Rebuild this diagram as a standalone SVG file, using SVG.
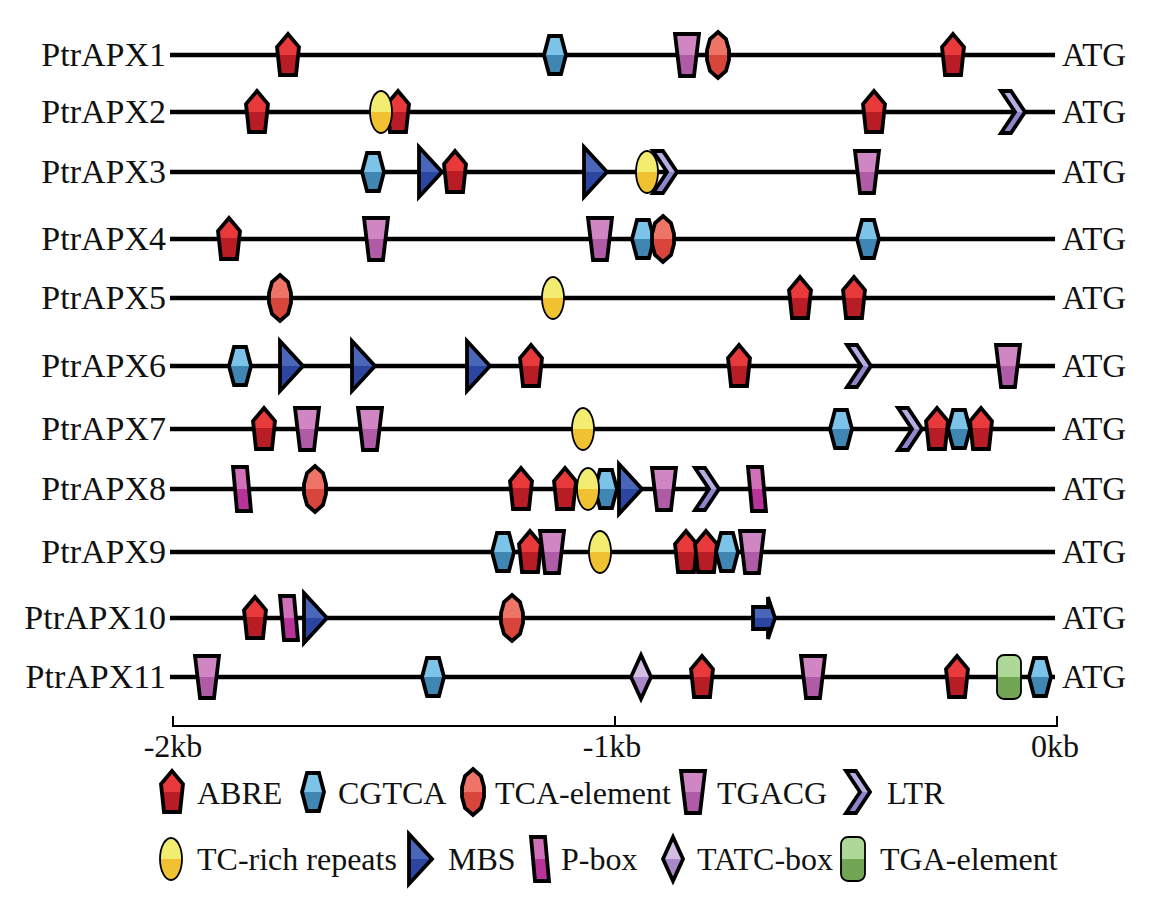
<svg xmlns="http://www.w3.org/2000/svg" xmlns:xlink="http://www.w3.org/1999/xlink" width="1168" height="914" viewBox="0 0 1168 914">
<style>
.t{font-family:"Liberation Serif","Times New Roman",serif;font-size:32px;fill:#111}
.lab{text-anchor:end;font-size:34px}
.atg{font-size:33px}
.bb{stroke:#000;stroke-width:4.5}
.ax{stroke:#000;stroke-width:2;fill:none}
.s{stroke:#000;stroke-width:3.8;stroke-linejoin:miter}
.th{stroke:#000;stroke-width:1.8}
</style>
<defs>
<linearGradient id="gABRE" x1="0" y1="0" x2="0" y2="1"><stop offset="0.5" stop-color="#e83a3a"/><stop offset="0.5" stop-color="#b81d25"/></linearGradient>
<linearGradient id="gCG" x1="0" y1="0" x2="0" y2="1"><stop offset="0.5" stop-color="#7cc3ea"/><stop offset="0.5" stop-color="#4086b3"/></linearGradient>
<linearGradient id="gTCA" x1="0" y1="0" x2="0" y2="1"><stop offset="0.5" stop-color="#ef7468"/><stop offset="0.5" stop-color="#d8453a"/></linearGradient>
<linearGradient id="gTG" x1="0" y1="0" x2="0" y2="1"><stop offset="0.5" stop-color="#cf86c3"/><stop offset="0.5" stop-color="#b05ba5"/></linearGradient>
<linearGradient id="gLTR" x1="0" y1="0" x2="0" y2="1"><stop offset="0.5" stop-color="#b4aee2"/><stop offset="0.5" stop-color="#8e86cc"/></linearGradient>
<linearGradient id="gTC" x1="0" y1="0" x2="0" y2="1"><stop offset="0.5" stop-color="#f2ec70"/><stop offset="0.5" stop-color="#f0c232"/></linearGradient>
<linearGradient id="gMBS" x1="0" y1="0" x2="0" y2="1"><stop offset="0.5" stop-color="#4a66b8"/><stop offset="0.5" stop-color="#2c45a0"/></linearGradient>
<linearGradient id="gPB" x1="0" y1="0" x2="0" y2="1"><stop offset="0.5" stop-color="#cf70b8"/><stop offset="0.5" stop-color="#b8349a"/></linearGradient>
<linearGradient id="gTATC" x1="0" y1="0" x2="0" y2="1"><stop offset="0.5" stop-color="#d2bee2"/><stop offset="0.5" stop-color="#a888c8"/></linearGradient>
<linearGradient id="gTGA" x1="0" y1="0" x2="0" y2="1"><stop offset="0.5" stop-color="#aed898"/><stop offset="0.5" stop-color="#72a655"/></linearGradient>
<polygon id="abre" class="s" fill="url(#gABRE)" points="0,-21 11,-8 8,20 -8,20 -11,-8"/>
<polygon id="cg" class="s" fill="url(#gCG)" points="-6,-19 6,-19 11,0 6,19 -6,19 -11,0"/>
<polygon id="tca" class="s" fill="url(#gTCA)" points="0,-23 8,-16 11,-5 11,5 8,16 0,23 -8,16 -11,5 -11,-5 -8,-16"/>
<polygon id="tg" class="s" fill="url(#gTG)" points="-12,-21 12,-21 7,21 -7,21"/>
<polygon id="ltr" class="s" fill="url(#gLTR)" points="-12,-21 -2,-21 12,0 -2,21 -12,21 2,0"/>
<ellipse id="tc" class="th" fill="url(#gTC)" cx="0" cy="0" rx="11" ry="21"/>
<polygon id="mbs" class="s" fill="url(#gMBS)" points="-11,-25 12,0 -11,25"/>
<polygon id="mbs2" class="s" fill="url(#gMBS)" points="-10,-11 5,-11 5,-21 12,0 5,21 5,11 -10,11"/>
<polygon id="pb" class="s" fill="url(#gPB)" points="-9,-22 5,-22 9,22 -5,22"/>
<polygon id="tatc" class="s" fill="url(#gTATC)" points="0,-22 10,0 0,22 -10,0"/>
<rect id="tga" class="th" fill="url(#gTGA)" x="-12" y="-22" width="24" height="44" rx="7"/>
</defs>
<rect width="1168" height="914" fill="#fff"/>

<g id="connectors"></g>

<g id="row1">
<line class="bb" x1="170" y1="55" x2="1055" y2="55"/>
<text class="t lab" x="166" y="66">PtrAPX1</text><text class="t atg" x="1062" y="66">ATG</text>
<use xlink:href="#abre" x="288" y="55"/><use xlink:href="#cg" x="555" y="55"/><use xlink:href="#tg" x="687" y="55"/><use xlink:href="#tca" x="718" y="55"/><use xlink:href="#abre" x="953" y="55"/>
</g>
<g id="row2">
<line class="bb" x1="170" y1="112" x2="1055" y2="112"/>
<text class="t lab" x="166" y="123">PtrAPX2</text><text class="t atg" x="1062" y="123">ATG</text>
<use xlink:href="#abre" x="257" y="112"/><use xlink:href="#abre" x="398" y="112"/><use xlink:href="#abre" x="874" y="112"/><use xlink:href="#ltr" x="1013" y="112"/><use xlink:href="#tc" x="381" y="112"/>
</g>
<g id="row3">
<line class="bb" x1="170" y1="172" x2="1055" y2="172"/>
<text class="t lab" x="166" y="183">PtrAPX3</text><text class="t atg" x="1062" y="183">ATG</text>
<use xlink:href="#cg" x="373" y="172"/><use xlink:href="#mbs" x="430" y="172"/><use xlink:href="#abre" x="455" y="172"/><use xlink:href="#mbs" x="595" y="172"/><use xlink:href="#ltr" x="665" y="172"/><use xlink:href="#tg" x="867" y="172"/><use xlink:href="#tc" x="647" y="172"/>
</g>
<g id="row4">
<line class="bb" x1="170" y1="239" x2="1055" y2="239"/>
<text class="t lab" x="166" y="250">PtrAPX4</text><text class="t atg" x="1062" y="250">ATG</text>
<use xlink:href="#abre" x="229" y="239"/><use xlink:href="#tg" x="376" y="239"/><use xlink:href="#tg" x="600" y="239"/><use xlink:href="#cg" x="643" y="239"/><use xlink:href="#tca" x="663" y="239"/><use xlink:href="#cg" x="868" y="239"/>
</g>
<g id="row5">
<line class="bb" x1="170" y1="298" x2="1055" y2="298"/>
<text class="t lab" x="166" y="309">PtrAPX5</text><text class="t atg" x="1062" y="309">ATG</text>
<use xlink:href="#tca" x="280" y="298"/><use xlink:href="#abre" x="800" y="298"/><use xlink:href="#abre" x="854" y="298"/><use xlink:href="#tc" x="553" y="298"/>
</g>
<g id="row6">
<line class="bb" x1="170" y1="366" x2="1055" y2="366"/>
<text class="t lab" x="166" y="377">PtrAPX6</text><text class="t atg" x="1062" y="377">ATG</text>
<use xlink:href="#cg" x="240" y="366"/><use xlink:href="#mbs" x="291" y="366"/><use xlink:href="#mbs" x="363" y="366"/><use xlink:href="#mbs" x="478" y="366"/><use xlink:href="#abre" x="531" y="366"/><use xlink:href="#abre" x="739" y="366"/><use xlink:href="#ltr" x="859" y="366"/><use xlink:href="#tg" x="1008" y="366"/>
</g>
<g id="row7">
<line class="bb" x1="170" y1="429" x2="1055" y2="429"/>
<text class="t lab" x="166" y="440">PtrAPX7</text><text class="t atg" x="1062" y="440">ATG</text>
<use xlink:href="#abre" x="264" y="429"/><use xlink:href="#tg" x="307" y="429"/><use xlink:href="#tg" x="370" y="429"/><use xlink:href="#cg" x="841" y="429"/><use xlink:href="#ltr" x="910" y="429"/><use xlink:href="#abre" x="937" y="429"/><use xlink:href="#cg" x="959" y="429"/><use xlink:href="#abre" x="981" y="429"/><use xlink:href="#tc" x="583" y="429"/>
</g>
<g id="row8">
<line class="bb" x1="170" y1="489" x2="1055" y2="489"/>
<text class="t lab" x="166" y="500">PtrAPX8</text><text class="t atg" x="1062" y="500">ATG</text>
<use xlink:href="#pb" x="242" y="489"/><use xlink:href="#tca" x="315" y="489"/><use xlink:href="#abre" x="521" y="489"/><use xlink:href="#abre" x="565" y="489"/><use xlink:href="#cg" x="606" y="489"/><use xlink:href="#mbs" x="630" y="489"/><use xlink:href="#tg" x="664" y="489"/><use xlink:href="#ltr" x="707" y="489"/><use xlink:href="#pb" x="757" y="489"/><use xlink:href="#tc" x="588" y="489"/>
</g>
<g id="row9">
<line class="bb" x1="170" y1="552" x2="1055" y2="552"/>
<text class="t lab" x="166" y="563">PtrAPX9</text><text class="t atg" x="1062" y="563">ATG</text>
<use xlink:href="#cg" x="503" y="552"/><use xlink:href="#abre" x="530" y="552"/><use xlink:href="#tg" x="552" y="552"/><use xlink:href="#abre" x="686" y="552"/><use xlink:href="#abre" x="706" y="552"/><use xlink:href="#cg" x="727" y="552"/><use xlink:href="#tg" x="752" y="552"/><use xlink:href="#tc" x="600" y="552"/>
</g>
<g id="row10">
<line class="bb" x1="170" y1="618" x2="1055" y2="618"/>
<text class="t lab" x="166" y="629">PtrAPX10</text><text class="t atg" x="1062" y="629">ATG</text>
<use xlink:href="#abre" x="255" y="618"/><use xlink:href="#pb" x="289" y="618"/><use xlink:href="#mbs" x="315" y="618"/><use xlink:href="#tca" x="512" y="618"/><use xlink:href="#mbs2" x="763" y="618"/>
</g>
<g id="row11">
<line class="bb" x1="170" y1="677" x2="1055" y2="677"/>
<text class="t lab" x="166" y="688">PtrAPX11</text><text class="t atg" x="1062" y="688">ATG</text>
<use xlink:href="#tg" x="207" y="677"/><use xlink:href="#cg" x="433" y="677"/><use xlink:href="#tatc" x="641" y="677"/><use xlink:href="#abre" x="702" y="677"/><use xlink:href="#tg" x="813" y="677"/><use xlink:href="#abre" x="957" y="677"/><use xlink:href="#tga" x="1009" y="677"/><use xlink:href="#cg" x="1040" y="677"/>
</g>

<g id="axis">
<path class="ax" d="M173,716 V726 H1057 V716 M615,716 V726"/>
<text class="t" x="173" y="757" text-anchor="middle">-2kb</text>
<text class="t" x="612" y="757" text-anchor="middle">-1kb</text>
<text class="t" x="1055" y="757" text-anchor="middle">0kb</text>
</g>

<g id="legend">
<use xlink:href="#abre" x="172" y="792"/><text class="t" x="197" y="804">ABRE</text>
<use xlink:href="#cg" x="313" y="792"/><text class="t" x="338" y="804">CGTCA</text>
<use xlink:href="#tca" x="473" y="792"/><text class="t" x="495" y="804">TCA-element</text>
<use xlink:href="#tg" x="693" y="792"/><text class="t" x="717" y="804">TGACG</text>
<use xlink:href="#ltr" x="858" y="792"/><text class="t" x="887" y="804">LTR</text>
<use xlink:href="#tc" x="171" y="859"/><text class="t" x="197" y="870">TC-rich repeats</text>
<use xlink:href="#mbs" x="420" y="859"/><text class="t" x="448" y="870">MBS</text>
<use xlink:href="#pb" x="540" y="859"/><text class="t" x="561" y="870">P-box</text>
<use xlink:href="#tatc" x="673" y="859"/><text class="t" x="697" y="870">TATC-box</text>
<use xlink:href="#tga" x="853" y="859"/><text class="t" x="880" y="870">TGA-element</text>
</g>
</svg>
